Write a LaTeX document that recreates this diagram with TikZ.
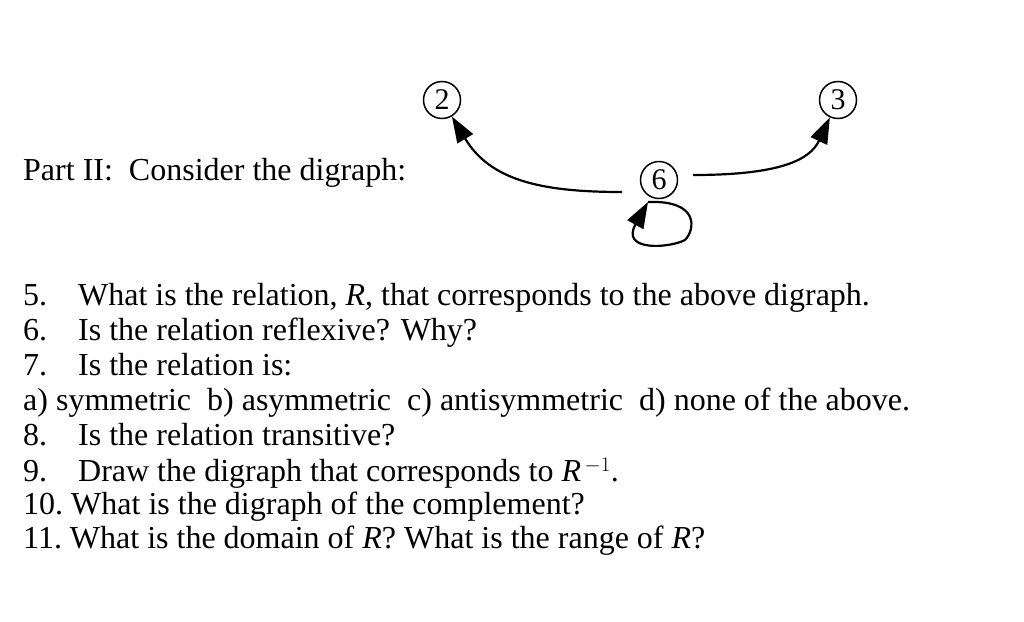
\documentclass[tikz,border=0pt]{standalone}
\usepackage{fontspec}
\setmainfont{Liberation Serif}
\usetikzlibrary{arrows.meta}
\newcommand{\numgap}{\hspace{31pt}}
\begin{document}
\begin{tikzpicture}[x=1pt,y=-1pt,
  vert/.style={draw,circle,line width=1.5pt,minimum size=37pt,inner sep=0pt,font=\fontsize{30}{30}\selectfont},
  txt/.style={anchor=base west,inner sep=0pt,font=\fontsize{32}{36}\selectfont},
  arc/.style={line width=2.2pt,-{Triangle[length=26pt,width=18pt]}}]
\useasboundingbox (0,0) rectangle (1024,621);
\node[vert] (n2) at (442,100) {2};
\node[vert] (n3) at (838,100) {3};
\node[vert] (n6) at (659,180) {6};
\coordinate (a6s) at (622,192);
\coordinate (b6s) at (693,175);
\coordinate (l1) at (648,202);
\draw[arc] (a6s) .. controls (540,192) and (490,180) .. (n2);
\draw[arc] (b6s) .. controls (780,175) and (810,160) .. (n3);
\draw[arc] (l1) .. controls (700,200) and (695,230) .. (685,240) .. controls (670,248) and (620,252) .. (l1);
\node[txt] (p) at (23,180) {Part II:\ \ Consider the digraph:};
\node[txt] (q5) at (23,305) {5.\numgap What is the relation, \textit{R}, that corresponds to the above digraph.};
\node[txt] (q6) at (23,340) {6.\numgap Is the relation reflexive? Why?};
\node[txt] (q7) at (23,375) {7.\numgap Is the relation is:};
\node[txt] (qa) at (23,410) {a) symmetric\ \ b) asymmetric\ \ c) antisymmetric\ \ d) none of the above.};
\node[txt] (q8) at (23,445) {8.\numgap Is the relation transitive?};
\node[txt] (q9) at (23,481) {9.\numgap Draw the digraph that corresponds to \textit{R}$^{\,-1}$.};
\node[txt] (q10) at (23,514) {10.\ What is the digraph of the complement?};
\node[txt] (q11) at (23,548) {11.\ What is the domain of \textit{R}? What is the range of \textit{R}?};
\end{tikzpicture}
\end{document}
